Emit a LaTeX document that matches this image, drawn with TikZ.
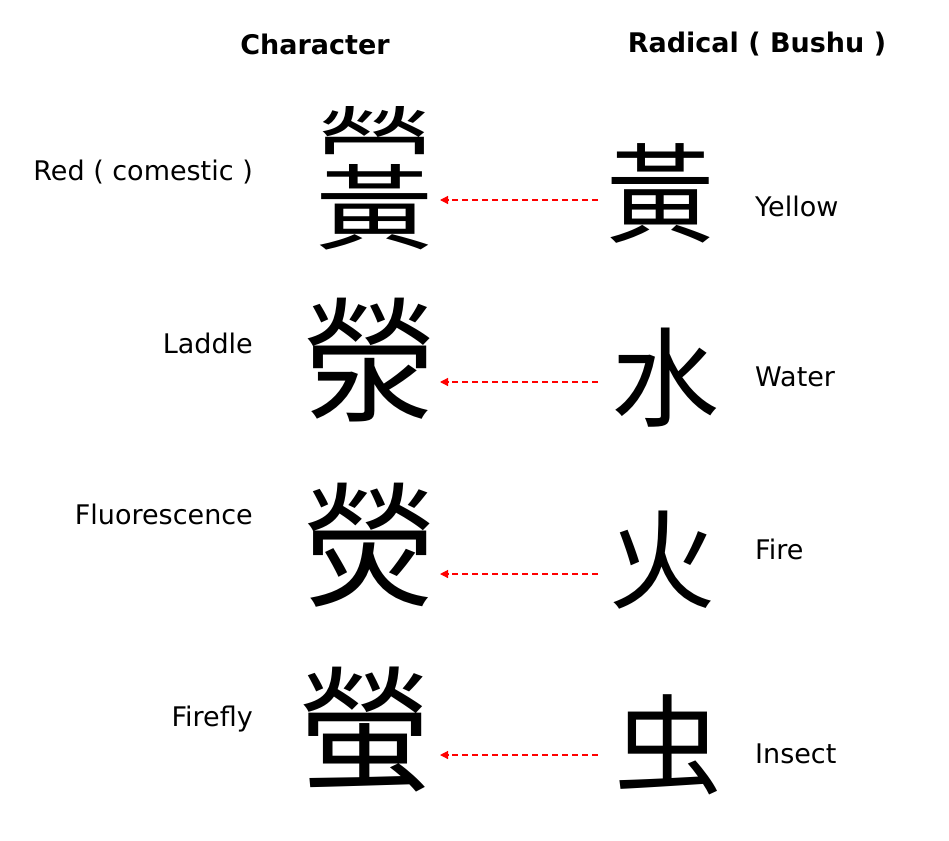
\documentclass[tikz,border=0pt]{standalone}
\usepackage{fontspec}
\setmainfont{DejaVu Sans}
\newfontfamily\cjk{Noto Sans CJK TC}
\usetikzlibrary{arrows.meta}
\begin{document}
\begin{tikzpicture}[x=1pt,y=-1pt,
 lab/.style={font=\fontsize{27}{30}\selectfont,inner sep=0pt},
 head/.style={font=\fontsize{27}{30}\selectfont\bfseries,inner sep=0pt},
 big/.style={font=\fontsize{135}{140}\cjk,inner sep=0pt},
 rad/.style={font=\fontsize{108}{112}\cjk,inner sep=0pt},
 arr/.style={red,dashed,line width=1.2pt,dash pattern=on 6pt off 4pt,-{Triangle[length=8pt,width=8pt]}}]
\useasboundingbox[fill=white] (0,0) rectangle (949,840);
\node[head] (h1) at (315,44) {Character};
\node[head] (h2) at (757,44) {Radical ( Bushu )};
\node[lab,anchor=east] (l1) at (253,172) {Red ( comestic )};
\node[lab,anchor=east] (l2) at (253,343) {Laddle};
\node[lab,anchor=east] (l3) at (253,514) {Fluorescence};
\node[lab,anchor=east] (l4) at (253,719) {Firefly};
\node[lab,anchor=west] (r1) at (755,206) {Yellow};
\node[lab,anchor=west] (r2) at (755,377) {Water};
\node[lab,anchor=west] (r3) at (755,549) {Fire};
\node[lab,anchor=west] (r4) at (755,754) {Insect};
\node[inner sep=0pt] (c1) at (374,178) {\cjk\fontsize{100}{100}\selectfont\vbox{\hbox{\resizebox{118pt}{60pt}{𤇾}}\vskip-24pt\hbox{\resizebox{118pt}{78pt}{黃}}}};
\node[big] (c2) at (370,360) {滎};
\node[big] (c3) at (370,545) {熒};
\node[big] (c4) at (365,730) {螢};
\node[rad] (k1) at (660,193) {黃};
\node[rad] (k2) at (665,378) {水};
\node[rad] (k3) at (662,560) {火};
\node[rad] (k4) at (668,745) {虫};
\coordinate (a1) at (598,200); \coordinate (b1) at (440,200);
\coordinate (a2) at (598,382); \coordinate (b2) at (440,382);
\coordinate (a3) at (598,574); \coordinate (b3) at (440,574);
\coordinate (a4) at (598,755); \coordinate (b4) at (440,755);
\foreach \i in {1,2,3,4} \draw[arr] (a\i) -- (b\i);
\end{tikzpicture}
\end{document}
